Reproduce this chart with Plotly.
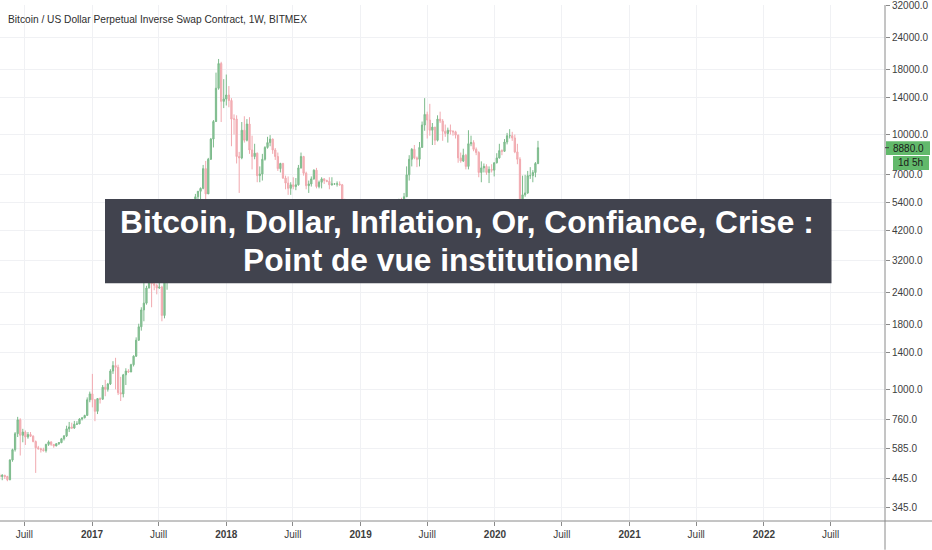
import pandas as pd
import plotly.graph_objects as go

# ---- data (weekly candles, BitMEX XBTUSD, weeks starting Monday) ----
first_week = "2016-04-25"

open_px = [
    460, 455, 460, 455, 442, 528, 580, 670, 760, 660, 680, 650, 665, 655, 624, 590, 585, 580, 575, 608,
    622, 608, 600, 612, 618, 640, 657, 700, 712, 705, 730, 732, 765, 773, 790, 910,
    960, 910, 820, 920, 915, 1020, 1000, 1050, 1180, 1240, 1220, 970, 960, 1140, 1180, 1170, 1250, 1350,
    1560, 1760, 2050, 2180, 2500, 2950, 2600, 2560, 2500, 2520, 1950, 2750, 2770, 3260, 4000, 4100, 4350,
    4600, 4200, 3700, 3780, 4370, 4610, 5700, 5990, 6150, 7350, 5850, 8000, 9600, 11250, 15200, 19000, 13500,
    13800, 14300, 13600, 11500, 11500, 8200, 8100, 10400, 9500, 11000, 8700, 8200, 8450, 6900, 7000, 8000,
    8900, 9300, 9600, 8700, 8200, 7350, 7700, 6750, 6450, 6150, 6350, 6250, 6350, 7400, 8200, 7050, 6300,
    6400, 6700, 7250, 6250, 6500, 6700, 6600, 6550, 6350, 6400, 6400, 6400, 6350, 5550, 3800, 4100, 3500,
    3200, 4000, 3850,
    4050, 3600, 3550, 3550, 3450, 3650, 3650, 3850, 3800, 3950, 4000, 4000, 4100, 5050, 5150, 5300, 5200,
    5700, 6950, 8000, 8750, 8100, 8000, 8900, 10900, 12000, 11400, 10400, 10700, 9500, 11500, 11300, 10300,
    10100, 10400, 10300, 10250, 9950, 8100, 7880, 8300, 7500, 9200, 9300, 8750, 8500, 7100, 7400, 7500,
    7100, 7300, 7250,
    7750, 8100, 8650, 8600, 9350, 9900, 9900, 9700, 8550, 8000, 5350, 5800, 5900, 6900, 6900, 7100, 7700,
]
high_px = [
    468, 465, 462, 458, 532, 585, 680, 780, 770, 700, 690, 680, 680, 660, 630, 600, 590, 590, 612, 630,
    625, 610, 615, 620, 645, 660, 720, 745, 740, 752, 750, 770, 775, 795, 930, 980,
    1150, 915, 925, 930, 1040, 1090, 1060, 1200, 1290, 1330, 1250, 1120, 1150, 1210, 1200, 1260, 1360, 1600,
    1810, 2100, 2800, 2550, 2990, 2990, 2780, 2600, 2700, 2550, 2900, 2790, 3280, 4200, 4480, 4400, 4980,
    4700, 4350, 4100, 4380, 4620, 5850, 6000, 6200, 7600, 7880, 8100, 9700, 11400, 17500, 19800, 19300, 16500,
    17200, 15500, 13900, 12000, 11900, 8550, 11200, 11800, 11500, 11700, 9900, 9200, 8500, 7500, 8400, 9000,
    9800, 9950, 9650, 8850, 8500, 7750, 7750, 6900, 6850, 6500, 6800, 6750, 7600, 8500, 8250, 7150, 6600,
    6850, 7300, 7400, 6600, 6800, 6750, 6650, 6800, 6800, 6450, 6550, 6550, 6400, 5600, 4400, 4150, 3600,
    4250, 4200, 4100,
    4100, 3700, 3650, 3550, 3700, 3700, 4200, 3950, 3950, 4050, 4100, 4150, 5300, 5450, 5600, 5650, 5900,
    7500, 8300, 8850, 9100, 8200, 9350, 11250, 13900, 12300, 13200, 11100, 10700, 11900, 12300, 11500, 10950,
    10650, 10950, 10400, 10350, 10000, 8500, 8800, 8400, 10400, 9900, 9500, 8900, 8600, 7850, 7700, 7650,
    7500, 7650, 7650,
    8450, 9200, 8750, 9600, 10150, 10500, 10250, 10000, 9200, 8150, 6900, 6950, 7200, 7450, 7250, 7800, 9450,
]
low_px = [
    443, 440, 445, 436, 440, 520, 570, 650, 550, 620, 605, 640, 650, 620, 470, 580, 565, 570, 565, 600,
    600, 590, 598, 605, 615, 630, 650, 680, 700, 700, 725, 730, 755, 770, 790, 890,
    850, 750, 800, 880, 910, 940, 980, 1040, 1150, 1000, 950, 900, 930, 1040, 1160, 1170, 1230, 1340,
    1550, 1700, 1850, 2150, 2490, 2100, 2450, 2360, 2480, 1850, 1900, 2460, 2650, 3240, 3950, 3950, 4330,
    4050, 2970, 3580, 3760, 4180, 4600, 5100, 5500, 6100, 5550, 5850, 7950, 8900, 11200, 15000, 11200, 12700,
    13000, 12800, 9000, 10000, 7700, 5900, 8000, 9300, 9400, 8400, 7300, 8000, 6500, 6500, 6600, 7900,
    8800, 9000, 8400, 7950, 7200, 7100, 6700, 6100, 5800, 5800, 6100, 6050, 6300, 7350, 6900, 6100, 5900,
    6250, 6650, 6150, 6150, 6150, 6400, 6500, 6100, 6300, 6350, 6250, 6300, 5200, 3500, 3500, 3250, 3100,
    3200, 3550, 3700,
    3500, 3500, 3500, 3400, 3350, 3550, 3650, 3750, 3700, 3850, 3950, 3950, 4100, 4950, 5050, 5050, 5150,
    5700, 6600, 7500, 8000, 7450, 7500, 8900, 10350, 9650, 9900, 9100, 9100, 9400, 11100, 9450, 9800,
    9300, 10000, 9900, 9650, 7750, 7750, 7800, 7300, 7300, 9000, 8600, 8300, 6800, 6500, 7100, 6950,
    6450, 7100, 6850,
    7700, 8050, 8300, 8550, 9150, 9650, 9450, 8450, 7650, 3600, 4450, 5700, 5850, 6700, 6500, 6800, 7650,
]
close_px = [
    455, 460, 455, 442, 528, 580, 670, 760, 660, 680, 650, 665, 655, 624, 590, 585, 580, 575, 608, 622,
    608, 600, 612, 618, 640, 657, 700, 712, 705, 730, 732, 765, 773, 790, 910, 960,
    910, 820, 920, 915, 1020, 1000, 1050, 1180, 1240, 1220, 970, 960, 1140, 1180, 1170, 1250, 1350, 1560,
    1760, 2050, 2180, 2500, 2950, 2600, 2560, 2500, 2520, 1950, 2750, 2770, 3260, 4000, 4100, 4350, 4600,
    4200, 3700, 3780, 4370, 4610, 5700, 5990, 6150, 7350, 5850, 8000, 9600, 11250, 15200, 19000, 13500, 13800,
    14300, 13600, 11500, 11500, 8200, 8100, 10400, 9500, 11000, 8700, 8200, 8450, 6900, 7000, 8000, 8900,
    9300, 9600, 8700, 8200, 7350, 7700, 6750, 6450, 6150, 6350, 6250, 6350, 7400, 8200, 7050, 6300, 6400,
    6700, 7250, 6250, 6500, 6700, 6600, 6550, 6350, 6400, 6400, 6400, 6350, 5550, 3800, 4100, 3500, 3200,
    4000, 3850, 4050,
    3600, 3550, 3550, 3450, 3650, 3650, 3850, 3800, 3950, 4000, 4000, 4100, 5050, 5150, 5300, 5200, 5700,
    6950, 8000, 8750, 8100, 8000, 8900, 10900, 12000, 11400, 10400, 10700, 9500, 11500, 11300, 10300, 10100,
    10400, 10300, 10250, 9950, 8100, 7880, 8300, 7500, 9200, 9300, 8750, 8500, 7100, 7400, 7500, 7100,
    7300, 7250, 7750,
    8100, 8650, 8600, 9350, 9900, 9900, 9700, 8550, 8000, 5350, 5800, 5900, 6900, 6900, 7100, 7700, 8880,
]

y_tick_values = [345, 445, 585, 760, 1000, 1400, 1800, 2400, 3200, 4200, 5400, 7000,
                 10000, 14000, 18000, 24000, 32000]
y_tick_labels = [f"{v:.1f}" for v in y_tick_values]

x_tick_dates = ["2016-07-01", "2017-01-01", "2017-07-01", "2018-01-01", "2018-07-01",
                "2019-01-01", "2019-07-01", "2020-01-01", "2020-07-01", "2021-01-01",
                "2021-07-01", "2022-01-01", "2022-07-01"]
x_tick_labels = ["Juill", "<b>2017</b>", "Juill", "<b>2018</b>", "Juill", "<b>2019</b>", "Juill",
                 "<b>2020</b>", "Juill", "<b>2021</b>", "Juill", "<b>2022</b>", "Juill"]

chart_title = "Bitcoin / US Dollar Perpetual Inverse Swap Contract, 1W, BITMEX"
banner_line1 = "Bitcoin, Dollar, Inflation, Or, Confiance, Crise :"
banner_line2 = "Point de vue institutionnel"
last_price = close_px[-1]
countdown = "1d 5h"

weeks = pd.date_range(first_week, periods=len(close_px), freq="7D")

# ---- figure ----
W, H = 932, 550
ML, MR, MT, MB = 0, 47, 0, 29
PW, PH = W - ML - MR, H - MT - MB


def px_x(x):
    return (x - ML) / PW


def px_y(y):
    return (H - MB - y) / PH


fig = go.Figure()
fig.add_trace(go.Candlestick(
    x=weeks, open=open_px, high=high_px, low=low_px, close=close_px,
    increasing=dict(line=dict(color="#7dbb8c", width=1), fillcolor="#8fc69c"),
    decreasing=dict(line=dict(color="#f1a9af", width=1), fillcolor="#f5b8bd"),
    whiskerwidth=0, hoverinfo="skip", showlegend=False,
))

axis_font = dict(family="Liberation Sans, Arial, sans-serif", size=10, color="#3d3d3d")
grid = "#f0f1f4"
axis_line = "#8a8a8a"

fig.update_layout(
    width=W, height=H,
    margin=dict(l=ML, r=MR, t=MT, b=MB),
    paper_bgcolor="white", plot_bgcolor="white",
    showlegend=False,
    xaxis=dict(
        type="date", range=["2016-04-26", "2022-11-26"],
        rangeslider=dict(visible=False),
        tickmode="array", tickvals=x_tick_dates, ticktext=x_tick_labels,
        showgrid=True, gridcolor=grid, gridwidth=1,
        ticks="outside", ticklen=4, tickcolor=axis_line,
        showline=False, zeroline=False,
        tickfont=axis_font,
    ),
    yaxis=dict(
        type="log", range=[2.4834, 4.5085], side="right",
        tickmode="array", tickvals=y_tick_values, ticktext=y_tick_labels,
        showgrid=True, gridcolor=grid, gridwidth=1,
        ticks="outside", ticklen=4, tickcolor=axis_line,
        showline=False, zeroline=False,
        tickfont=axis_font, ticklabeloverflow="allow",
    ),
)

shapes = []
# axis lines extending across the whole frame
shapes.append(dict(type="line", xref="paper", yref="paper", x0=0, x1=px_x(W), y0=0, y1=0,
                   line=dict(color=axis_line, width=1), layer="above"))
shapes.append(dict(type="line", xref="paper", yref="paper", x0=1, x1=1, y0=px_y(H), y1=1,
                   line=dict(color=axis_line, width=1), layer="above"))
# banner
shapes.append(dict(type="rect", xref="paper", yref="paper",
                   x0=px_x(105), x1=px_x(831.5), y0=px_y(281), y1=px_y(196),
                   fillcolor="#41434e", line=dict(width=0), layer="above"))
# last price label
shapes.append(dict(type="rect", xref="paper", yref="paper",
                   x0=px_x(886), x1=px_x(930), y0=px_y(151.5), y1=px_y(137.5),
                   fillcolor="#62b96b", line=dict(width=0), layer="above"))
shapes.append(dict(type="rect", xref="paper", yref="paper",
                   x0=px_x(893), x1=px_x(929), y0=px_y(166.5), y1=px_y(152.5),
                   fillcolor="#62b96b", line=dict(width=0), layer="above"))
shapes.append(dict(type="line", xref="paper", yref="y", x0=1, x1=px_x(889),
                   y0=last_price, y1=last_price,
                   line=dict(color="#3d3d3d", width=1), layer="above"))
fig.update_layout(shapes=shapes)

banner_font1 = dict(family="Liberation Sans, Arial, Helvetica, sans-serif",
                    size=31.7, color="white")
annotations = [
    dict(text=chart_title, xref="paper", yref="paper", x=px_x(6), y=px_y(15),
         xanchor="left", yanchor="middle", showarrow=False,
         font=dict(family="Liberation Sans, Arial, sans-serif", size=10.2, color="#2e2e2e")),
    dict(text=f"<b>{banner_line1}</b>", xref="paper", yref="paper", x=px_x(467.5), y=px_y(219.5),
         xanchor="center", yanchor="middle", showarrow=False, font=banner_font1),
    dict(text=f"<b>{banner_line2}</b>", xref="paper", yref="paper", x=px_x(440.5), y=px_y(257.5),
         xanchor="center", yanchor="middle", showarrow=False, font=banner_font1),
    dict(text=f"{last_price:.1f}", xref="paper", yref="paper", x=px_x(908), y=px_y(144.5),
         xanchor="center", yanchor="middle", showarrow=False,
         font=dict(family="Liberation Sans, Arial, sans-serif", size=10, color="#1a1a1a")),
    dict(text=countdown, xref="paper", yref="paper", x=px_x(911), y=px_y(159.5),
         xanchor="center", yanchor="middle", showarrow=False,
         font=dict(family="Liberation Sans, Arial, sans-serif", size=10, color="#1a1a1a")),
]
fig.update_layout(annotations=annotations)

fig.write_html("out.html")
